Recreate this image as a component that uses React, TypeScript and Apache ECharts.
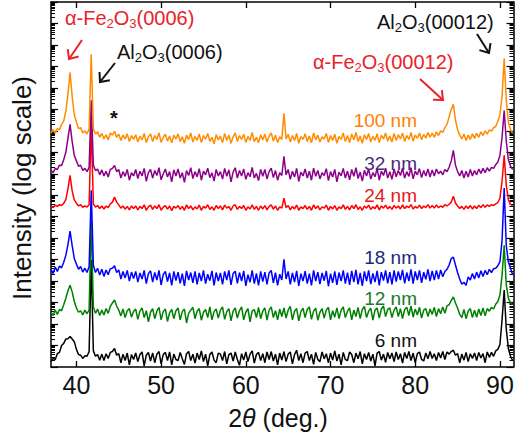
import React, { useEffect, useRef } from "react";
import * as echarts from "echarts";

// ---- data (log-intensity in decades, offset per trace) ----
const X_START = 37; // first sample, 2θ (deg.)
const X_STEP = 0.25; // sampling step, deg.
const X_MIN = 37;
const X_MAX = 91.6;
const X_TICKS = [40, 50, 60, 70, 80, 90];
const Y_DECADES = 17;
const LOG_MINOR = [0.301, 0.477, 0.602, 0.699, 0.778, 0.845, 0.903, 0.954];

const LABELS = ["6 nm", "12 nm", "18 nm", "24 nm", "32 nm", "100 nm"];
const LINE_COLORS = ["#000000", "#008000", "#0000ff", "#ff0000", "#8b008b", "#ff8c00"];
const LABEL_COLORS = ["#111111", "#1a7a2a", "#1a2a7a", "#e02020", "#4b2a7b", "#ff8000"];

const T100 = [
  10.9, 11.05, 10.88, 11.1, 11.05, 11.3, 11.45, 11.9, 12.7, 13.72, 12.6, 11.75, 11.4, 11.1, 11.15, 10.9, 11.0, 10.85, 11.1, 14.56,
  11.1, 10.85, 10.95, 10.7, 10.88, 10.62, 10.82, 10.58, 10.9, 10.8, 10.98, 10.7, 10.85, 10.55, 10.8, 10.62, 10.86, 10.5, 10.78, 10.6,
  10.82, 10.48, 10.75, 10.58, 10.88, 10.45, 10.72, 10.85, 10.5, 10.78, 10.6, 10.9, 10.46, 10.7, 10.84, 10.52, 10.76, 10.44, 10.8, 10.62,
  10.86, 10.5, 10.72, 10.42, 10.8, 10.6, 10.9, 10.48, 10.74, 10.56, 10.85, 10.45, 10.78, 10.62, 10.88, 10.5, 10.7, 10.4, 10.82, 10.58,
  10.75, 10.45, 10.88, 10.55, 10.8, 10.42, 10.72, 10.9, 10.5, 10.78, 10.6, 10.84, 10.46, 10.74, 10.55, 10.92, 10.5, 10.7, 10.44, 10.82,
  10.58, 10.85, 10.48, 10.76, 10.9, 10.52, 10.8, 10.45, 10.72, 10.6, 11.81, 10.62, 10.84, 10.48, 10.78, 10.55, 10.88, 10.42, 10.74, 10.6,
  10.86, 10.5, 10.76, 10.44, 10.9, 10.58, 10.8, 10.48, 10.72, 10.62, 10.88, 10.46, 10.78, 10.55, 10.84, 10.42, 10.74, 10.6, 10.9, 10.5,
  10.78, 10.45, 10.85, 10.58, 10.92, 10.5, 10.76, 10.42, 10.82, 10.6, 10.88, 10.48, 10.74, 10.56, 10.86, 10.45, 10.8, 10.62, 10.9, 10.52,
  10.76, 10.48, 10.88, 10.55, 10.82, 10.62, 10.9, 10.5, 10.78, 10.6, 10.92, 10.52, 10.8, 10.65, 10.9, 10.58, 10.84, 10.66, 10.92, 10.7,
  10.9, 10.7, 10.95, 10.78, 11.0, 10.92, 11.15, 11.3, 11.65, 12.0, 12.23, 11.5, 11.05, 10.8, 10.62, 10.85, 10.55, 10.8, 10.6, 10.86,
  10.65, 10.88, 10.7, 10.95, 10.78, 11.0, 10.85, 11.05, 10.98, 11.15, 11.2, 11.45, 11.75, 12.6, 14.37, 12.4, 11.4, 11.05, 10.88,
];

const T32 = [
  9.16, 9.05, 9.25, 9.2, 9.4, 9.38, 9.65, 10.0, 10.65, 11.3, 10.5, 9.85, 9.6, 9.35, 9.4, 9.15, 9.25, 9.1, 9.3, 12.42,
  9.4, 9.15, 9.22, 8.95, 9.18, 8.9, 9.12, 8.85, 9.2, 9.25, 9.39, 9.1, 9.2, 8.8, 9.1, 8.88, 9.2, 8.7, 9.05, 8.9,
  9.2, 8.78, 9.12, 8.9, 9.25, 8.65, 9.05, 9.2, 8.8, 9.15, 8.92, 9.28, 8.72, 9.0, 9.22, 8.85, 9.1, 8.62, 9.18, 8.9,
  9.22, 8.8, 9.05, 8.6, 9.15, 8.92, 9.28, 8.78, 9.1, 8.86, 9.24, 8.7, 9.12, 8.95, 9.26, 8.82, 9.05, 8.66, 9.2, 8.9,
  9.1, 8.75, 9.25, 8.88, 9.18, 8.62, 9.08, 9.28, 8.8, 9.15, 8.9, 9.22, 8.74, 9.05, 8.86, 9.3, 8.8, 9.02, 8.68, 9.2,
  8.88, 9.2, 8.76, 9.1, 9.26, 8.82, 9.15, 8.7, 9.05, 8.92, 9.81, 8.95, 9.2, 8.74, 9.12, 8.85, 9.25, 8.64, 9.08, 8.9,
  9.22, 8.8, 9.12, 8.7, 9.26, 8.88, 9.15, 8.76, 9.05, 8.92, 9.24, 8.68, 9.1, 8.85, 9.2, 8.62, 9.08, 8.9, 9.25, 8.8,
  9.12, 8.72, 9.2, 8.88, 9.28, 8.78, 9.08, 8.66, 9.16, 8.9, 9.22, 8.75, 9.05, 8.86, 9.25, 8.7, 9.12, 8.92, 9.26, 8.8,
  9.1, 8.74, 9.22, 8.86, 9.15, 8.92, 9.26, 8.8, 9.1, 8.88, 9.28, 8.76, 9.12, 8.95, 9.24, 8.82, 9.15, 8.9, 9.22, 8.85,
  9.18, 8.9, 9.22, 9.0, 9.12, 8.95, 9.2, 9.1, 9.3, 9.6, 10.09, 9.4, 9.1, 8.9, 9.15, 8.8, 9.12, 8.85, 9.2, 8.9,
  9.15, 8.95, 9.22, 9.02, 9.25, 9.05, 9.28, 9.12, 9.3, 9.25, 9.42, 9.55, 9.85, 10.7, 11.95, 10.5, 9.65, 9.35, 9.2,
];

const T24 = [
  7.5, 7.42, 7.54, 7.48, 7.56, 7.52, 7.62, 7.8, 8.3, 8.93, 8.2, 7.78, 7.63, 7.5, 7.56, 7.44, 7.5, 7.45, 7.56, 11.26,
  7.6, 7.45, 7.52, 7.38, 7.5, 7.36, 7.5, 7.42, 7.6, 7.68, 7.91, 7.68, 7.55, 7.4, 7.5, 7.35, 7.48, 7.32, 7.5, 7.38,
  7.5, 7.32, 7.48, 7.38, 7.55, 7.3, 7.46, 7.54, 7.34, 7.5, 7.38, 7.56, 7.3, 7.45, 7.52, 7.35, 7.5, 7.28, 7.48, 7.4,
  7.52, 7.34, 7.48, 7.3, 7.55, 7.38, 7.5, 7.32, 7.46, 7.36, 7.54, 7.3, 7.48, 7.4, 7.56, 7.34, 7.46, 7.3, 7.52, 7.38,
  7.5, 7.32, 7.54, 7.4, 7.48, 7.3, 7.5, 7.56, 7.34, 7.48, 7.38, 7.52, 7.3, 7.46, 7.36, 7.55, 7.34, 7.48, 7.3, 7.5,
  7.36, 7.52, 7.32, 7.48, 7.55, 7.35, 7.5, 7.3, 7.46, 7.4, 7.86, 7.42, 7.52, 7.32, 7.48, 7.36, 7.54, 7.3, 7.46, 7.38,
  7.52, 7.34, 7.48, 7.3, 7.55, 7.38, 7.5, 7.32, 7.46, 7.4, 7.54, 7.3, 7.48, 7.36, 7.52, 7.3, 7.46, 7.38, 7.55, 7.34,
  7.48, 7.32, 7.52, 7.38, 7.56, 7.34, 7.46, 7.3, 7.5, 7.4, 7.54, 7.34, 7.46, 7.38, 7.55, 7.32, 7.5, 7.4, 7.54, 7.36,
  7.48, 7.34, 7.52, 7.4, 7.5, 7.36, 7.55, 7.38, 7.5, 7.42, 7.56, 7.36, 7.48, 7.4, 7.54, 7.38, 7.5, 7.42, 7.56, 7.4,
  7.52, 7.4, 7.55, 7.42, 7.5, 7.44, 7.56, 7.5, 7.58, 7.68, 7.95, 7.64, 7.5, 7.38, 7.48, 7.34, 7.5, 7.38, 7.52, 7.36,
  7.5, 7.38, 7.54, 7.42, 7.56, 7.44, 7.55, 7.48, 7.56, 7.52, 7.6, 7.66, 7.86, 8.65, 9.86, 8.45, 7.78, 7.58, 7.5,
];

const T18 = [
  4.55, 4.35, 4.65, 4.45, 4.7, 4.62, 4.88, 5.2, 5.7, 6.33, 5.65, 5.05, 4.8, 4.55, 4.68, 4.42, 4.6, 4.4, 4.68, 8.23,
  4.75, 4.4, 4.6, 4.28, 4.55, 4.22, 4.52, 4.3, 4.58, 4.6, 4.72, 4.4, 4.52, 4.1, 4.45, 4.15, 4.5, 4.0, 4.42, 4.12,
  4.45, 3.95, 4.38, 4.1, 4.5, 3.88, 4.35, 4.48, 3.95, 4.4, 4.05, 4.5, 3.82, 4.3, 4.45, 3.98, 4.38, 3.8, 4.45, 4.02,
  4.42, 3.9, 4.35, 3.78, 4.48, 4.05, 4.4, 3.92, 4.45, 3.85, 4.38, 4.0, 4.5, 3.88, 4.32, 4.02, 4.48, 3.8, 4.4, 4.0,
  4.38, 3.85, 4.45, 4.05, 4.5, 3.82, 4.35, 4.46, 3.9, 4.4, 4.0, 4.48, 3.78, 4.3, 3.95, 4.5, 3.88, 4.36, 3.8, 4.45,
  3.98, 4.42, 3.85, 4.38, 4.5, 3.92, 4.4, 3.8, 4.32, 4.05, 5.02, 4.1, 4.45, 3.85, 4.38, 3.95, 4.48, 3.78, 4.35, 4.0,
  4.46, 3.88, 4.35, 3.8, 4.5, 4.0, 4.42, 3.86, 4.38, 4.02, 4.48, 3.76, 4.35, 3.92, 4.45, 3.82, 4.4, 4.0, 4.5, 3.88,
  4.4, 3.82, 4.48, 3.95, 4.52, 3.85, 4.38, 3.78, 4.45, 4.0, 4.5, 3.86, 4.36, 3.95, 4.48, 3.8, 4.42, 4.02, 4.5, 3.9,
  4.42, 3.85, 4.5, 3.98, 4.45, 4.05, 4.52, 3.9, 4.4, 4.0, 4.55, 3.88, 4.45, 4.05, 4.5, 3.92, 4.42, 4.08, 4.55, 4.0,
  4.48, 4.05, 4.5, 4.1, 4.52, 4.2, 4.45, 4.55, 4.75, 5.05, 5.12, 4.75, 4.4, 4.1, 3.85, 3.95, 3.8, 4.2, 4.05, 4.35,
  4.1, 4.42, 4.15, 4.48, 4.22, 4.5, 4.3, 4.55, 4.4, 4.58, 4.6, 4.72, 4.9, 5.9, 8.33, 5.65, 4.88, 4.6, 4.3,
];

const T12 = [
  2.55, 2.4, 2.65, 2.45, 2.68, 2.62, 2.9, 3.2, 3.55, 3.81, 3.5, 3.05, 2.75, 2.55, 2.62, 2.42, 2.65, 2.48, 2.66, 6.84,
  2.8, 2.5, 2.7, 2.4, 2.65, 2.42, 2.72, 2.5, 2.82, 2.98, 3.12, 2.84, 2.65, 2.38, 2.7, 2.3, 2.62, 2.72, 2.32, 2.6,
  2.7, 2.22, 2.6, 2.75, 2.3, 2.62, 2.1, 2.55, 2.72, 2.25, 2.6, 2.78, 2.2, 2.58, 2.7, 2.12, 2.52, 2.68, 2.25, 2.62,
  2.75, 2.2, 2.58, 2.7, 2.05, 2.5, 2.65, 2.78, 2.25, 2.6, 2.72, 2.18, 2.55, 2.68, 2.3, 2.8, 2.2, 2.58, 2.7, 2.28,
  2.65, 2.8, 2.22, 2.58, 2.72, 2.15, 2.6, 2.75, 2.28, 2.62, 2.8, 2.2, 2.55, 2.72, 2.1, 2.6, 2.68, 2.3, 2.78, 2.25,
  2.6, 2.75, 2.18, 2.65, 2.8, 2.3, 2.62, 2.2, 2.7, 2.35, 2.75, 2.28, 2.65, 2.82, 2.2, 2.6, 2.72, 2.15, 2.58, 2.74,
  2.3, 2.68, 2.8, 2.22, 2.6, 2.74, 2.18, 2.55, 2.72, 2.28, 2.65, 2.78, 2.2, 2.62, 2.32, 2.75, 2.25, 2.65, 2.8, 2.3,
  2.6, 2.75, 2.2, 2.65, 2.35, 2.78, 2.25, 2.68, 2.82, 2.3, 2.6, 2.74, 2.18, 2.65, 2.75, 2.28, 2.7, 2.85, 2.35, 2.68,
  2.75, 2.3, 2.65, 2.8, 2.35, 2.72, 2.25, 2.68, 2.78, 2.4, 2.85, 2.32, 2.7, 2.42, 2.78, 2.28, 2.65, 2.72, 2.35, 2.7,
  2.45, 2.78, 2.35, 2.72, 2.48, 2.8, 2.5, 2.85, 2.9, 3.1, 3.26, 2.98, 2.75, 2.45, 2.3, 2.68, 2.25, 2.6, 2.72, 2.3,
  2.65, 2.32, 2.7, 2.4, 2.75, 2.38, 2.72, 2.6, 2.78, 2.7, 2.92, 3.05, 3.35, 4.28, 5.67, 3.81, 3.2, 3.0, 2.9,
];

const T6 = [
  0.25, 0.4, 0.35, 0.62, 0.68, 1.0, 1.1, 1.3, 1.32, 1.42, 1.3, 1.18, 0.82, 0.58, 0.55, 0.4, 0.52, 0.5, 0.72, 4.98,
  0.75, 0.5, 0.58, 0.32, 0.6, 0.3, 0.62, 0.4, 0.68, 0.72, 0.86, 0.55, 0.62, 0.2, 0.6, 0.3, 0.65, 0.1, 0.58, 0.35,
  0.65, 0.25, 0.58, 0.7, 0.05, 0.55, 0.68, 0.28, 0.66, 0.2, 0.6, 0.72, 0.15, 0.58, 0.68, 0.3, 0.7, 0.1, 0.6, 0.35,
  0.3, 0.68, 0.38, 0.12, 0.62, 0.72, 0.3, 0.6, 0.18, 0.65, 0.35, 0.75, 0.25, 0.6, 0.05, 0.58, 0.7, 0.32, 0.2, 0.65,
  0.6, 0.3, 0.72, 0.15, 0.58, 0.65, 0.28, 0.7, 0.35, 0.08, 0.62, 0.32, 0.7, 0.25, 0.6, 0.75, 0.18, 0.58, 0.68, 0.3,
  0.62, 0.2, 0.7, 0.35, 0.72, 0.28, 0.6, 0.1, 0.65, 0.32, 0.72, 0.25, 0.6, 0.7, 0.15, 0.58, 0.78, 0.3, 0.62, 0.2,
  0.65, 0.72, 0.3, 0.6, 0.12, 0.68, 0.35, 0.25, 0.7, 0.38, 0.62, 0.2, 0.65, 0.32, 0.75, 0.28, 0.6, 0.1, 0.68, 0.35,
  0.3, 0.7, 0.58, 0.2, 0.65, 0.38, 0.72, 0.15, 0.62, 0.35, 0.68, 0.28, 0.6, 0.05, 0.65, 0.72, 0.32, 0.6, 0.22, 0.68,
  0.38, 0.65, 0.25, 0.7, 0.35, 0.62, 0.18, 0.68, 0.4, 0.72, 0.3, 0.65, 0.2, 0.62, 0.7, 0.35, 0.28, 0.65, 0.38, 0.72,
  0.4, 0.62, 0.3, 0.68, 0.42, 0.72, 0.35, 0.7, 0.6, 0.72, 0.78, 0.55, 0.62, 0.2, 0.6, 0.32, 0.68, 0.25, 0.62, 0.4,
  0.65, 0.3, 0.68, 0.42, 0.62, 0.2, 0.7, 0.45, 0.68, 0.5, 0.75, 0.82, 1.05, 2.2, 3.58, 1.75, 0.85, 0.5, 0.3,
];

const TRACES = [T6, T12, T18, T24, T32, T100];

// label text positions (px, right-aligned) for the thickness labels
const LABEL_Y = [340, 298, 257, 195, 163, 120];

const FONT = "'Liberation Sans', Arial, Helvetica, sans-serif";

function arrow(x1: number, y1: number, x2: number, y2: number, color: string) {
  const dx = x2 - x1;
  const dy = y2 - y1;
  const len = Math.hypot(dx, dy);
  const bx = -dx / len;
  const by = -dy / len;
  const L = 10;
  const a = 0.72;
  const c = Math.cos(a);
  const s = Math.sin(a);
  const p1 = [x2 + L * (bx * c - by * s), y2 + L * (bx * s + by * c)];
  const p2 = [x2 + L * (bx * c + by * s), y2 + L * (-bx * s + by * c)];
  return [
    { type: "line", shape: { x1, y1, x2, y2 }, style: { stroke: color, lineWidth: 2 }, silent: true },
    {
      type: "polyline",
      shape: { points: [p1, [x2, y2], p2] },
      style: { stroke: color, lineWidth: 2, fill: "none" },
      silent: true,
    },
  ];
}

function chemText(parts: string, x: number, y: number, color: string) {
  return {
    type: "text",
    x,
    y,
    silent: true,
    style: {
      text: parts,
      fill: color,
      align: "left",
      textAlign: "left",
      verticalAlign: "middle",
      textVerticalAlign: "middle",
      rich: {
        n: { fontSize: 20, fontFamily: FONT, fill: color, lineHeight: 24 },
        s: { fontSize: 13, fontFamily: FONT, fill: color, lineHeight: 9, verticalAlign: "bottom" },
      },
    },
  };
}

export default function App() {
  const ref = useRef<HTMLDivElement>(null);

  useEffect(() => {
    document.body.style.margin = "0";
    if (!ref.current) return;
    const chart = echarts.init(ref.current, null, { renderer: "svg" });

    const majorY: number[] = [];
    const minorY: number[] = [];
    for (let d = 0; d <= Y_DECADES; d++) {
      majorY.push(d);
      if (d < Y_DECADES) LOG_MINOR.forEach((f) => minorY.push(d + f));
    }

    const series = TRACES.map((vals, k) => ({
      type: "line",
      name: LABELS[k],
      data: vals.map((v, i) => [X_START + X_STEP * i, v]),
      showSymbol: false,
      symbol: "none",
      silent: true,
      lineStyle: { color: LINE_COLORS[k], width: 1.5 },
      itemStyle: { color: LINE_COLORS[k] },
      emphasis: { disabled: true },
      z: 2 + k,
    }));

    const axisLine = { show: true, onZero: false, lineStyle: { color: "#000", width: 1.5 } };
    const xBase = {
      type: "value",
      min: X_MIN,
      max: X_MAX,
      splitLine: { show: false },
      axisLine,
      axisTick: { show: true, inside: true, length: 6, customValues: X_TICKS, lineStyle: { color: "#000", width: 1.3 } },
    };
    const yBase = {
      type: "value",
      min: 0,
      max: Y_DECADES,
      splitLine: { show: false },
      axisLabel: { show: false },
    };
    const majorTick = { show: true, inside: true, length: 7, customValues: majorY, lineStyle: { color: "#000", width: 1.2 } };
    const minorTick = { show: true, inside: true, length: 4, customValues: minorY, lineStyle: { color: "#000", width: 1 } };

    const graphics: any[] = [];
    LABELS.forEach((t, k) => {
      graphics.push({
        type: "text",
        x: 417,
        y: LABEL_Y[k],
        silent: true,
        style: {
          text: t,
          fill: LABEL_COLORS[k],
          font: `19px ${FONT}`,
          align: "right",
          textAlign: "right",
          verticalAlign: "middle",
          textVerticalAlign: "middle",
        },
      });
    });
    const red = "#e8232a";
    graphics.push(chemText("{n|α-Fe}{s|2}{n|O}{s|3}{n|(0006)}", 65, 18, red));
    graphics.push(chemText("{n|Al}{s|2}{n|O}{s|3}{n|(0006)}", 117, 52, "#111"));
    graphics.push(chemText("{n|Al}{s|2}{n|O}{s|3}{n|(00012)}", 377, 22, "#111"));
    graphics.push(chemText("{n|α-Fe}{s|2}{n|O}{s|3}{n|(00012)}", 313, 62, red));
    graphics.push(...arrow(82, 40, 69, 59, red));
    graphics.push(...arrow(115, 63, 100, 82, "#111"));
    graphics.push(...arrow(420, 79, 443, 100, red));
    graphics.push(...arrow(477, 34, 489, 53, "#111"));
    graphics.push({
      type: "text",
      x: 114,
      y: 118,
      silent: true,
      style: { text: "*", fill: "#111", font: `bold 20px ${FONT}`, align: "center", textAlign: "center", verticalAlign: "middle", textVerticalAlign: "middle" },
    });
    graphics.push({
      type: "text",
      x: 22,
      y: 188,
      rotation: Math.PI / 2,
      silent: true,
      style: { text: "Intensity (log scale)", fill: "#111", font: `26px ${FONT}`, align: "center", textAlign: "center", verticalAlign: "middle", textVerticalAlign: "middle" },
    });
    graphics.push({
      type: "text",
      x: 278,
      y: 418,
      silent: true,
      style: {
        text: "{n|2}{i|θ}{n| (deg.)}",
        fill: "#111",
        align: "center",
        textAlign: "center",
        verticalAlign: "middle",
        textVerticalAlign: "middle",
        rich: {
          n: { fontSize: 25, fontFamily: FONT, fill: "#111" },
          i: { fontSize: 25, fontFamily: FONT, fontStyle: "italic", fill: "#111" },
        },
      },
    });

    const option: any = {
      animation: false,
      grid: { left: 51, right: 6.5, top: 2, bottom: 70, containLabel: false, outerBoundsMode: "none" },
      xAxis: [
        {
          ...xBase,
          position: "bottom",
          axisLabel: { show: true, customValues: X_TICKS, fontSize: 25, color: "#111", fontFamily: FONT, margin: 5 },
        },
        { ...xBase, position: "top", axisLabel: { show: false } },
      ],
      yAxis: [
        { ...yBase, position: "left", axisLine, axisTick: majorTick },
        { ...yBase, position: "left", axisLine: { show: false, onZero: false }, axisTick: minorTick },
        { ...yBase, position: "right", axisLine, axisTick: majorTick },
        { ...yBase, position: "right", axisLine: { show: false, onZero: false }, axisTick: minorTick },
      ],
      series,
      graphic: { elements: graphics },
    };
    chart.setOption(option);
    return () => chart.dispose();
  }, []);

  return <div ref={ref} style={{ width: 520, height: 437 }} />;
}
